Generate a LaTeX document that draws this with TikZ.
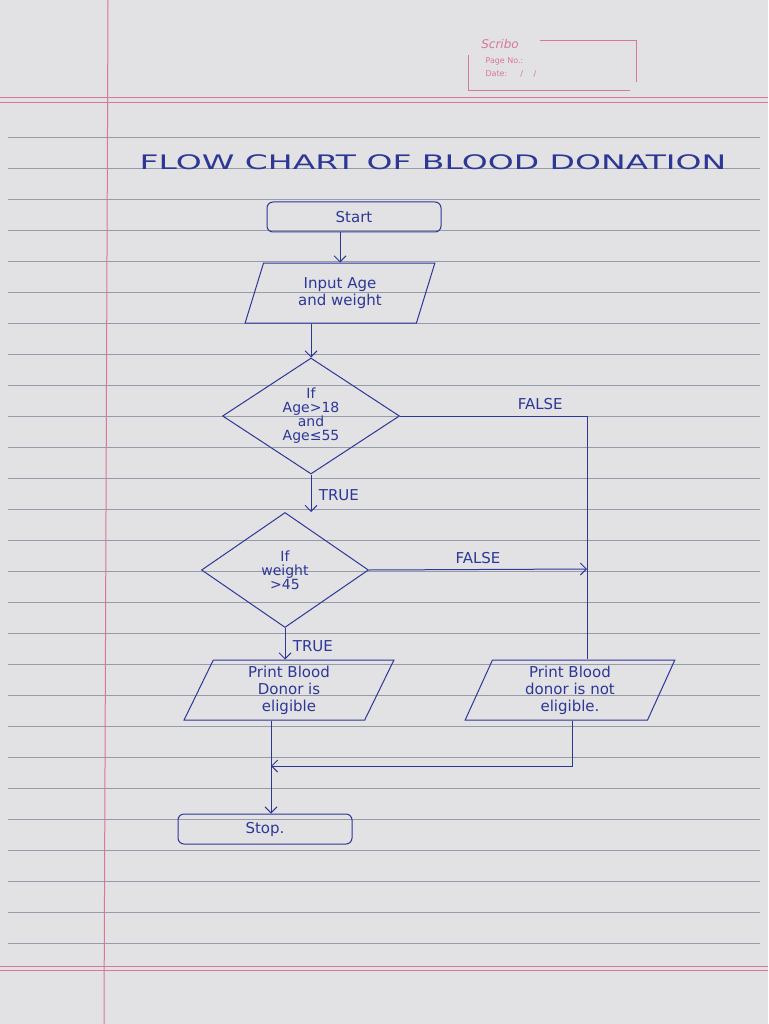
\documentclass[tikz,border=0pt]{standalone}
\usepackage{fontspec}
\setmainfont{DejaVu Sans}
\usetikzlibrary{shapes.geometric,arrows.meta}
\definecolor{paper}{RGB}{226,226,228}
\definecolor{ink}{RGB}{45,55,150}
\definecolor{rule}{RGB}{150,155,170}
\definecolor{margin}{RGB}{215,120,150}
\begin{document}
\begin{tikzpicture}[x=1pt,y=-1pt,
  every node/.style={text=ink,font=\fontsize{15}{17}\selectfont,align=center},
  lbl/.style={font=\fontsize{15}{17}\selectfont},
  term/.style={draw=ink,line width=1pt,rounded corners=6pt,minimum width=174pt,minimum height=30pt,inner sep=0pt},
  io/.style={draw=ink,line width=1pt,trapezium,trapezium left angle=72,trapezium right angle=108,minimum width=190pt,minimum height=60pt,inner sep=0pt,trapezium stretches=true},
  dec/.style={draw=ink,line width=1pt,diamond,inner sep=0pt,font=\fontsize{14}{14}\selectfont},
  line/.style={draw=ink,line width=1pt},
  arr/.style={line,-{Straight Barb[length=6pt]}}]
\useasboundingbox (0,0) rectangle (768,1024);
\fill[paper] (0,0) rectangle (768,1024);
% ruled lines
\foreach \y in {137,168,199,230,261,292,323,354,385,416,447,478,509,540,571,602,633,664,695,726,757,788,819,850,881,912,943}
  \draw[rule,line width=0.8pt] (8,\y) -- (760,\y);
\draw[margin,line width=1pt] (0,98) -- (768,98);
\draw[margin,line width=0.6pt] (0,102) -- (768,102);
\draw[margin,line width=1pt] (0,966) -- (768,966);
\draw[margin,line width=0.6pt] (0,970) -- (768,970);
\draw[margin,line width=1pt] (108,0) -- (104,1024);
% header
\node[text=margin,font=\itshape\fontsize{12}{12}\selectfont] (brand) at (500,44) {Scribo};
\node[text=margin,font=\fontsize{8}{8}\selectfont,anchor=west] (pg) at (482,61) {Page No.:};
\node[text=margin,font=\fontsize{8}{8}\selectfont,anchor=west] (dt) at (482,74) {Date:\quad\ \ /\quad\ /};
\draw[margin] (540,40) -- (636,40) -- (636,82) (468,55) -- (468,90) -- (630,90);
% title
\node[font=\fontsize{20}{20}\selectfont,xscale=1.65] (title) at (433,162) {FLOW CHART OF BLOOD DONATION};
% nodes
\node[term] (start) at (354,217) {Start};
\node[io] (input) at (340,293) {Input Age\\and weight};
\node[dec,minimum width=177pt,minimum height=116pt] (d1) at (311,416) {If\\Age>18\\and\\Age≤55};
\node[dec,minimum width=167pt,minimum height=115pt] (d2) at (285,570) {If\\weight\\>45};
\node[io,minimum width=210pt] (yes) at (289,690) {Print Blood\\Donor is\\eligible};
\node[io,minimum width=210pt] (no) at (570,690) {Print Blood\\donor is not\\eligible.};
\node[term] (stop) at (265,829) {Stop.};
\coordinate (c1) at (587,416);
\coordinate (c2) at (587,569);
\coordinate (c3) at (572,766);
\coordinate (c4) at (271,766);
% connectors
\draw[arr] (start.south -| input.north) -- (input.north);
\draw[arr] (input.south -| d1.north) -- (d1.north);
\draw[arr] (d1.south) -- node[right,lbl,xshift=4pt,yshift=-2pt]{TRUE} (d2.north -| d1.south);
\draw[arr] (d2.south) -- node[right,lbl,xshift=4pt,yshift=-2pt]{TRUE} (d2.south |- yes.north);
\draw[line] (d1.east) -- node[above,lbl,pos=0.75,yshift=2pt]{FALSE} (c1) -- (no.north -| c1);
\draw[arr] (d2.east) -- node[above,lbl,yshift=2pt]{FALSE} (c2);
\draw[arr] (yes.south -| c4) -- (stop.north -| c4);
\draw[arr] (no.south -| c3) -- (c3) -- (c4);
\end{tikzpicture}
\end{document}
